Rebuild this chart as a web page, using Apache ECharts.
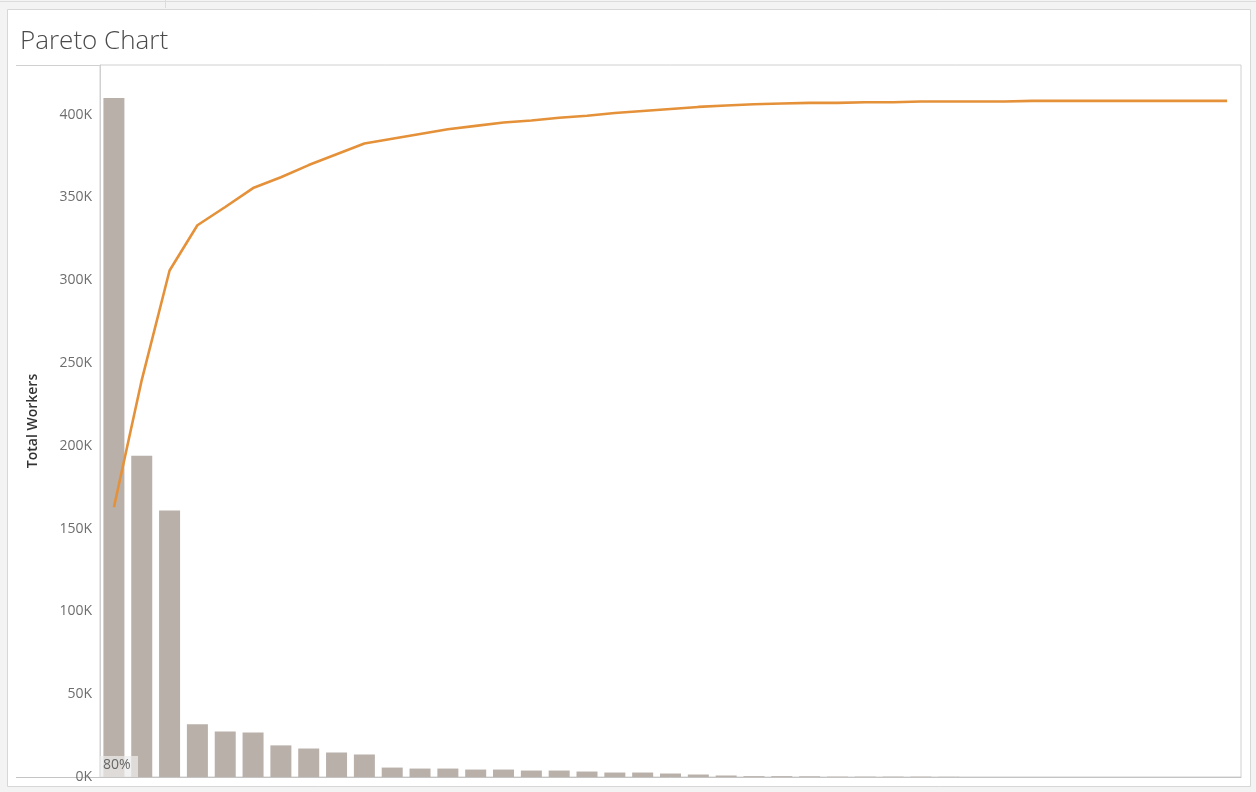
<!DOCTYPE html>
<html>
<head>
<meta charset="utf-8">
<script src="https://cdn.jsdelivr.net/npm/echarts@6/dist/echarts.min.js"></script>
<style>
  html, body { margin: 0; padding: 0; background: #f3f3f3; }
  #chart { width: 1256px; height: 792px; }
</style>
</head>
<body>
<div id="chart"></div>
<script>
// ---- data ----
const categories = [
  "C1","C2","C3","C4","C5","C6","C7","C8","C9","C10",
  "C11","C12","C13","C14","C15","C16","C17","C18","C19","C20",
  "C21","C22","C23","C24","C25","C26","C27","C28","C29","C30",
  "C31","C32","C33","C34","C35","C36","C37","C38","C39","C40","C41"
];
// Total workers per category (bars)
const totalWorkers = [
  410000, 194000, 161000, 31800, 27500, 26900, 19100, 17200, 14800, 13600,
  5700, 5100, 5100, 4500, 4500, 3900, 3900, 3300, 2700, 2700,
  2100, 1500, 900, 500, 500, 400, 200, 200, 200, 200,
  100, 0, 0, 0, 0, 0, 0, 0, 0, 0, 0
];
// Cumulative share of total (%) (line)
const cumulativePct = [
  39.9, 58.7, 74.9, 81.6, 84.3, 87.1, 88.7, 90.5, 92.1, 93.7,
  94.4, 95.1, 95.8, 96.3, 96.8, 97.1, 97.5, 97.8, 98.2, 98.5,
  98.8, 99.1, 99.3, 99.5, 99.6, 99.7, 99.7, 99.8, 99.8, 99.9,
  99.9, 99.9, 99.9, 100, 100, 100, 100, 100, 100, 100, 100
];
const yTicksMax = 430000;
const yTickStep = 50000;
const refLabel = "80%";

const chart = echarts.init(document.getElementById('chart'), null, { renderer: 'canvas' });

const option = {
  backgroundColor: 'transparent',
  animation: false,
  textStyle: { fontFamily: '"Open Sans", "Noto Sans", sans-serif' },
  title: {
    text: 'Pareto Chart',
    left: 15,
    top: 24,
    textStyle: {
      fontFamily: '"Open Sans", sans-serif',
      fontWeight: 300,
      fontSize: 26,
      color: '#4a4a4a'
    }
  },
  graphic: [
    // outer white panel
    { type: 'rect', z: -10, silent: true,
      shape: { x: 7.5, y: 9.5, width: 1243, height: 777 },
      style: { fill: '#ffffff', stroke: '#d7d7d7', lineWidth: 1 } },
    // top strip line and divider
    { type: 'line', z: -10, silent: true,
      shape: { x1: 0, y1: 1.5, x2: 1256, y2: 1.5 },
      style: { stroke: '#dcdcdc', lineWidth: 1 } },
    { type: 'line', z: -10, silent: true,
      shape: { x1: 165.5, y1: 0, x2: 165.5, y2: 8 },
      style: { stroke: '#dcdcdc', lineWidth: 1 } },
    // plot frame extensions to the left
    { type: 'line', z: -5, silent: true,
      shape: { x1: 16, y1: 65.5, x2: 100, y2: 65.5 },
      style: { stroke: '#d0d0d0', lineWidth: 1 } },
    { type: 'line', z: -5, silent: true,
      shape: { x1: 16, y1: 777.5, x2: 100, y2: 777.5 },
      style: { stroke: '#c4c4c4', lineWidth: 1 } },
    // reference label
    { type: 'rect', z: 100, silent: true,
      shape: { x: 100, y: 756, width: 38, height: 21 },
      style: { fill: 'rgba(236,236,236,0.72)' } },
    { type: 'text', z: 101, silent: true, x: 103, y: 758,
      style: { text: refLabel, fontSize: 14, fill: '#666666',
               fontFamily: '"Open Sans", sans-serif' } }
  ],
  grid: {
    left: 100, right: 15, top: 65, bottom: 15,
    show: true, borderColor: '#d0d0d0', borderWidth: 1, backgroundColor: 'transparent'
  },
  xAxis: {
    type: 'category',
    data: categories,
    axisLine: { show: true, lineStyle: { color: '#c4c4c4', width: 1 } },
    axisTick: { show: false },
    axisLabel: { show: false },
    splitLine: { show: false }
  },
  yAxis: [
    {
      type: 'value',
      min: 0, max: yTicksMax, interval: yTickStep,
      name: 'Total Workers',
      nameLocation: 'middle',
      nameGap: 60,
      nameRotate: 90,
      nameTextStyle: { fontSize: 14, color: '#333333', fontWeight: 600,
                       fontFamily: '"Open Sans", sans-serif' },
      axisLine: { show: true, lineStyle: { color: '#d0d0d0' } },
      axisTick: { show: false },
      splitLine: { show: false },
      axisLabel: {
        margin: 8,
        fontSize: 14,
        color: '#6e6e6e',
        showMaxLabel: false,
        formatter: v => (v / 1000) + 'K'
      }
    },
    {
      type: 'value',
      min: 0, max: 105.3,
      show: false,
      splitLine: { show: false }
    }
  ],
  series: [
    {
      name: 'Total Workers',
      type: 'bar',
      data: totalWorkers,
      barWidth: 21,
      itemStyle: { color: '#b9b0aa' },
      z: 2
    },
    {
      name: 'Cumulative %',
      type: 'line',
      yAxisIndex: 1,
      data: cumulativePct,
      symbol: 'none',
      smooth: false,
      lineStyle: { color: '#e4913a', width: 2.6 },
      z: 3
    }
  ]
};

chart.setOption(option);
</script>
</body>
</html>
